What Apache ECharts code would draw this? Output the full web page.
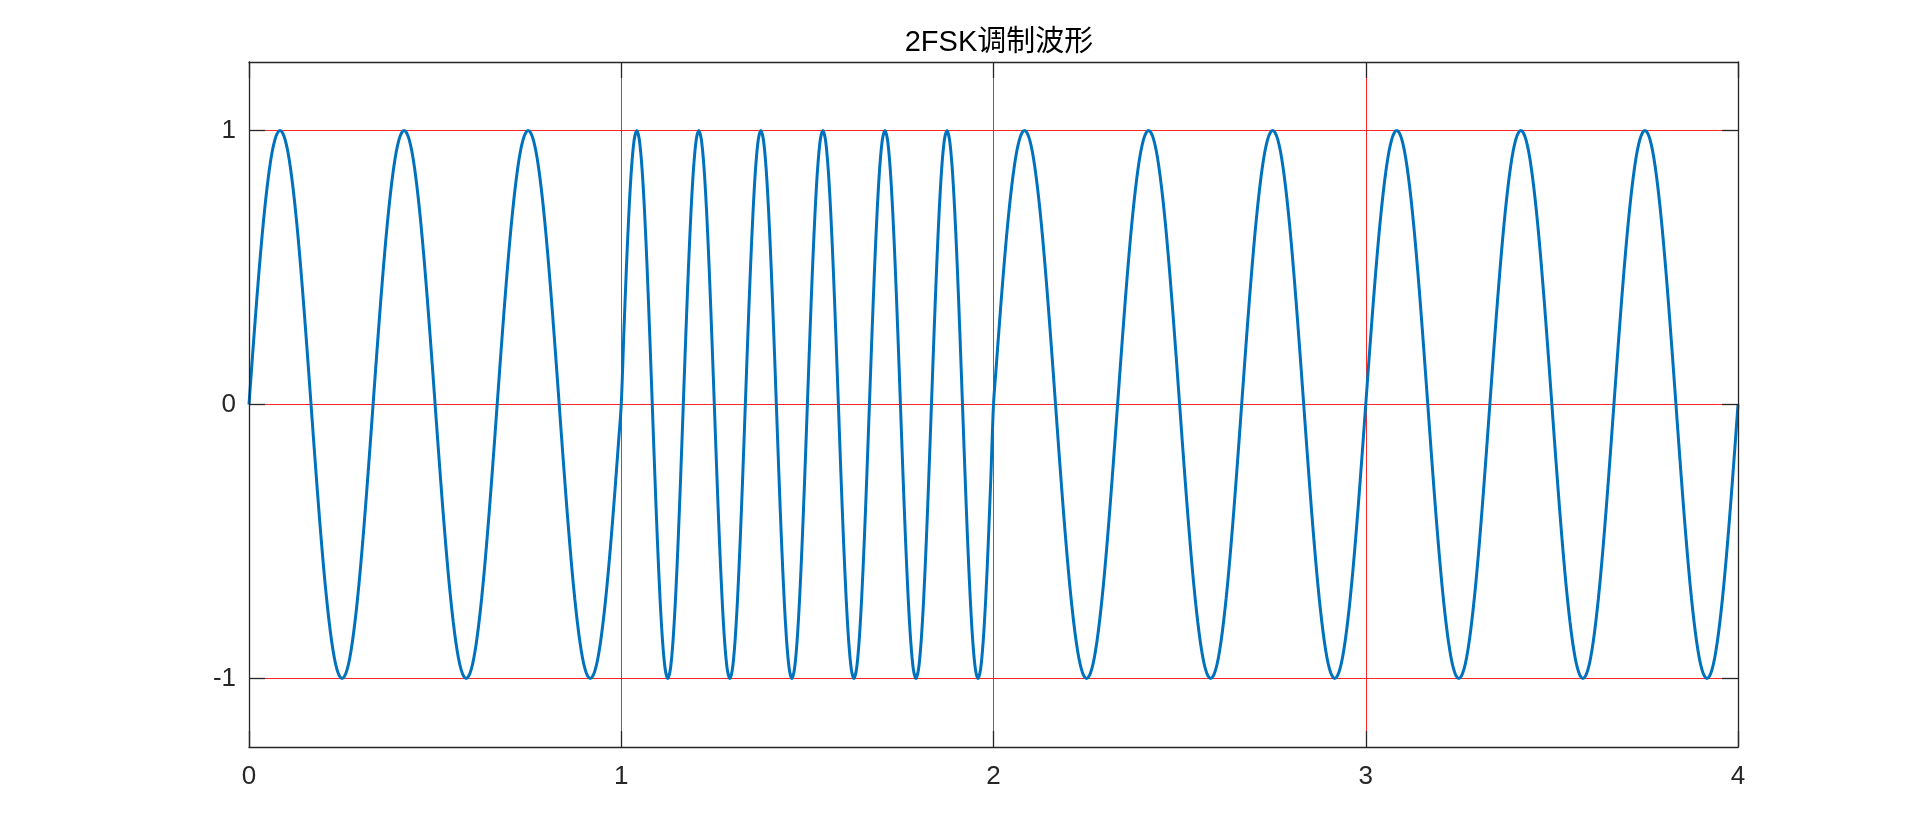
<!DOCTYPE html>
<html>
<head>
<meta charset="utf-8">
<script src="https://cdn.jsdelivr.net/npm/echarts@6/dist/echarts.min.js"></script>
<style>
html,body{margin:0;padding:0;background:#fff;}
#chart{width:1922px;height:840px;}
</style>
</head>
<body>
<div id="chart"></div>
<script>
// 2FSK waveform samples, 144 samples per second (one bit per second)
const sampleRate = 144;
// bit 0 (low carrier, 3 cycles)
const segment1 = [
 0, 0.131, 0.259, 0.383, 0.5, 0.609, 0.707, 0.793, 0.866, 0.924, 0.966, 0.991, 1, 0.991, 0.966, 0.924, 0.866, 0.793, 0.707, 0.609, 0.5, 0.383, 0.259, 0.131,
 0, -0.131, -0.259, -0.383, -0.5, -0.609, -0.707, -0.793, -0.866, -0.924, -0.966, -0.991, -1, -0.991, -0.966, -0.924, -0.866, -0.793, -0.707, -0.609, -0.5, -0.383, -0.259, -0.131,
 0, 0.131, 0.259, 0.383, 0.5, 0.609, 0.707, 0.793, 0.866, 0.924, 0.966, 0.991, 1, 0.991, 0.966, 0.924, 0.866, 0.793, 0.707, 0.609, 0.5, 0.383, 0.259, 0.131,
 0, -0.131, -0.259, -0.383, -0.5, -0.609, -0.707, -0.793, -0.866, -0.924, -0.966, -0.991, -1, -0.991, -0.966, -0.924, -0.866, -0.793, -0.707, -0.609, -0.5, -0.383, -0.259, -0.131,
 0, 0.131, 0.259, 0.383, 0.5, 0.609, 0.707, 0.793, 0.866, 0.924, 0.966, 0.991, 1, 0.991, 0.966, 0.924, 0.866, 0.793, 0.707, 0.609, 0.5, 0.383, 0.259, 0.131,
 0, -0.131, -0.259, -0.383, -0.5, -0.609, -0.707, -0.793, -0.866, -0.924, -0.966, -0.991, -1, -0.991, -0.966, -0.924, -0.866, -0.793, -0.707, -0.609, -0.5, -0.383, -0.259, -0.131
];
// bit 1 (high carrier, 6 cycles)
const segment2 = [
 0, 0.259, 0.5, 0.707, 0.866, 0.966, 1, 0.966, 0.866, 0.707, 0.5, 0.259, 0, -0.259, -0.5, -0.707, -0.866, -0.966, -1, -0.966, -0.866, -0.707, -0.5, -0.259,
 0, 0.259, 0.5, 0.707, 0.866, 0.966, 1, 0.966, 0.866, 0.707, 0.5, 0.259, 0, -0.259, -0.5, -0.707, -0.866, -0.966, -1, -0.966, -0.866, -0.707, -0.5, -0.259,
 0, 0.259, 0.5, 0.707, 0.866, 0.966, 1, 0.966, 0.866, 0.707, 0.5, 0.259, 0, -0.259, -0.5, -0.707, -0.866, -0.966, -1, -0.966, -0.866, -0.707, -0.5, -0.259,
 0, 0.259, 0.5, 0.707, 0.866, 0.966, 1, 0.966, 0.866, 0.707, 0.5, 0.259, 0, -0.259, -0.5, -0.707, -0.866, -0.966, -1, -0.966, -0.866, -0.707, -0.5, -0.259,
 0, 0.259, 0.5, 0.707, 0.866, 0.966, 1, 0.966, 0.866, 0.707, 0.5, 0.259, 0, -0.259, -0.5, -0.707, -0.866, -0.966, -1, -0.966, -0.866, -0.707, -0.5, -0.259,
 0, 0.259, 0.5, 0.707, 0.866, 0.966, 1, 0.966, 0.866, 0.707, 0.5, 0.259, 0, -0.259, -0.5, -0.707, -0.866, -0.966, -1, -0.966, -0.866, -0.707, -0.5, -0.259
];
// bit 0
const segment3 = [
 0, 0.131, 0.259, 0.383, 0.5, 0.609, 0.707, 0.793, 0.866, 0.924, 0.966, 0.991, 1, 0.991, 0.966, 0.924, 0.866, 0.793, 0.707, 0.609, 0.5, 0.383, 0.259, 0.131,
 0, -0.131, -0.259, -0.383, -0.5, -0.609, -0.707, -0.793, -0.866, -0.924, -0.966, -0.991, -1, -0.991, -0.966, -0.924, -0.866, -0.793, -0.707, -0.609, -0.5, -0.383, -0.259, -0.131,
 0, 0.131, 0.259, 0.383, 0.5, 0.609, 0.707, 0.793, 0.866, 0.924, 0.966, 0.991, 1, 0.991, 0.966, 0.924, 0.866, 0.793, 0.707, 0.609, 0.5, 0.383, 0.259, 0.131,
 0, -0.131, -0.259, -0.383, -0.5, -0.609, -0.707, -0.793, -0.866, -0.924, -0.966, -0.991, -1, -0.991, -0.966, -0.924, -0.866, -0.793, -0.707, -0.609, -0.5, -0.383, -0.259, -0.131,
 0, 0.131, 0.259, 0.383, 0.5, 0.609, 0.707, 0.793, 0.866, 0.924, 0.966, 0.991, 1, 0.991, 0.966, 0.924, 0.866, 0.793, 0.707, 0.609, 0.5, 0.383, 0.259, 0.131,
 0, -0.131, -0.259, -0.383, -0.5, -0.609, -0.707, -0.793, -0.866, -0.924, -0.966, -0.991, -1, -0.991, -0.966, -0.924, -0.866, -0.793, -0.707, -0.609, -0.5, -0.383, -0.259, -0.131
];
// bit 0 (plus final sample at t = 4)
const segment4 = [
 0, 0.131, 0.259, 0.383, 0.5, 0.609, 0.707, 0.793, 0.866, 0.924, 0.966, 0.991, 1, 0.991, 0.966, 0.924, 0.866, 0.793, 0.707, 0.609, 0.5, 0.383, 0.259, 0.131,
 0, -0.131, -0.259, -0.383, -0.5, -0.609, -0.707, -0.793, -0.866, -0.924, -0.966, -0.991, -1, -0.991, -0.966, -0.924, -0.866, -0.793, -0.707, -0.609, -0.5, -0.383, -0.259, -0.131,
 0, 0.131, 0.259, 0.383, 0.5, 0.609, 0.707, 0.793, 0.866, 0.924, 0.966, 0.991, 1, 0.991, 0.966, 0.924, 0.866, 0.793, 0.707, 0.609, 0.5, 0.383, 0.259, 0.131,
 0, -0.131, -0.259, -0.383, -0.5, -0.609, -0.707, -0.793, -0.866, -0.924, -0.966, -0.991, -1, -0.991, -0.966, -0.924, -0.866, -0.793, -0.707, -0.609, -0.5, -0.383, -0.259, -0.131,
 0, 0.131, 0.259, 0.383, 0.5, 0.609, 0.707, 0.793, 0.866, 0.924, 0.966, 0.991, 1, 0.991, 0.966, 0.924, 0.866, 0.793, 0.707, 0.609, 0.5, 0.383, 0.259, 0.131,
 0, -0.131, -0.259, -0.383, -0.5, -0.609, -0.707, -0.793, -0.866, -0.924, -0.966, -0.991, -1, -0.991, -0.966, -0.924, -0.866, -0.793, -0.707, -0.609, -0.5, -0.383, -0.259, -0.131,
 0
];
const xTicks = [0, 1, 2, 3, 4];
const yTicks = [-1, 0, 1];
const titleText = '2FSK调制波形';

const waveform = segment1.concat(segment2, segment3, segment4);
const seriesData = waveform.map((v, i) => [i / sampleRate, v]);

const FONT = "'Liberation Sans', Arial, 'Noto Sans CJK SC', sans-serif";
const xMin = xTicks[0], xMax = xTicks[xTicks.length - 1];
const yMin = -1.25, yMax = 1.25;

function xAxisCfg(pos, opts) {
  return Object.assign({
    type: 'value', position: pos, min: xMin, max: xMax, interval: 1,
    axisLine: {show: true, onZero: false, lineStyle: {color: '#262626', width: 1.3}},
    axisTick: {show: true, inside: true, length: 16, lineStyle: {color: '#262626', width: 1.3}},
    axisLabel: {show: false},
    splitLine: {show: false}
  }, opts);
}
function yAxisCfg(pos, opts) {
  return Object.assign({
    type: 'value', position: pos, min: yMin, max: yMax,
    axisLine: {show: true, onZero: false, lineStyle: {color: '#262626', width: 1.3}},
    axisTick: {show: true, inside: true, length: 16, lineStyle: {color: '#262626', width: 1.3},
      customValues: yTicks},
    axisLabel: {show: false},
    splitLine: {show: false}
  }, opts);
}

const chart = echarts.init(document.getElementById('chart'), null, {renderer: 'canvas'});
chart.setOption({
  backgroundColor: '#ffffff',
  animation: false,
  title: {
    text: titleText, left: 994, top: 23, textAlign: 'center',
    textStyle: {fontFamily: FONT, fontSize: 29, fontWeight: 'normal', color: '#000000'}
  },
  grid: {left: 249, right: 184, top: 62, bottom: 93, containLabel: false},
  xAxis: [
    xAxisCfg('bottom', {
      z: 3,
      axisLabel: {show: true, margin: 17, fontFamily: FONT, fontSize: 26, color: '#262626',
        customValues: xTicks}
    }),
    xAxisCfg('top', {z: 3}),
    xAxisCfg('bottom', {
      z: 0,
      axisLine: {show: false}, axisTick: {show: false},
      splitLine: {show: true, lineStyle: {color: '#ff0000', width: 1, opacity: 0.85}}
    })
  ],
  yAxis: [
    yAxisCfg('left', {
      z: 3,
      axisLabel: {show: true, margin: 13, fontFamily: FONT, fontSize: 26, color: '#262626',
        customValues: yTicks}
    }),
    yAxisCfg('right', {z: 3}),
    yAxisCfg('left', {
      z: 0,
      axisLine: {show: false}, axisTick: {show: false, customValues: yTicks},
      splitLine: {show: true, lineStyle: {color: '#ff0000', width: 1, opacity: 0.85}},
      axisLabel: {show: false, customValues: yTicks}
    })
  ],
  series: [{
    type: 'line',
    xAxisIndex: 0, yAxisIndex: 0,
    data: seriesData,
    smooth: 0.3,
    showSymbol: false,
    symbol: 'none',
    z: 2,
    lineStyle: {color: '#0072BD', width: 3}
  }]
});
</script>
</body>
</html>
